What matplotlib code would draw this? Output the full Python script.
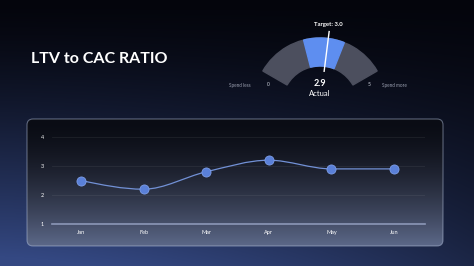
import numpy as np
import matplotlib
matplotlib.use("Agg")
import matplotlib.pyplot as plt
from matplotlib.patches import Wedge, FancyBboxPatch, PathPatch
from matplotlib.path import Path

# data
months = ["Jan", "Feb", "Mar", "Apr", "May", "Jun"]
ratio = [2.5, 2.2, 2.8, 3.2, 2.9, 2.9]
y_ticks = [1, 2, 3, 4]

gauge_min, gauge_max = 0, 5
band = (1.9, 3.4)
needle_at = 2.8
target_label = "Target: 3.0"
actual_value = "2.9"

W, H = 474, 266
fig = plt.figure(figsize=(W / 100, H / 100), dpi=100)

# full-figure axes in pixel units (y measured from bottom)
bg = fig.add_axes([0, 0, 1, 1])
bg.axis("off")

def Y(p):
    return H - p

# background gradient (row 0 = top of the figure)
xx, yy = np.meshgrid(np.linspace(0, 1, W), np.linspace(0, 1, H))
f = np.clip(yy ** 1.4 * (1.05 - 0.55 * xx ** 1.5), 0, 1)[..., None]
dark = np.array([4, 5, 12]) / 255
blue = np.array([52, 72, 130]) / 255
img = dark + (blue - dark) * f
bg.imshow(img, extent=[0, W, 0, H], origin="upper", aspect="auto", zorder=0)

# title
bg.text(31, Y(59), "LTV to CAC RATIO", color="white", fontsize=11.5,
        fontweight="bold", family="Lato", ha="left", va="center", zorder=5)

# gauge
cx, cy = 320, Y(104)
R, r = 66, 38

def ang(v):
    return 150 - 120 * (v - gauge_min) / (gauge_max - gauge_min)

bg.add_patch(Wedge((cx, cy), R, 30, 150, width=R - r, color="#4c4f5e", zorder=2))
bg.add_patch(Wedge((cx, cy), R, ang(band[1]), ang(band[0]), width=R - r,
                   color="#5e8ef0", zorder=3))
a = np.deg2rad(ang(needle_at))
bg.plot([cx + 33 * np.cos(a), cx + 73 * np.cos(a)],
        [cy + 33 * np.sin(a), cy + 73 * np.sin(a)], color="white", lw=1, zorder=4)
bg.text(328, Y(24.5), target_label, color="white", fontsize=4.3, fontweight="bold",
        family="Lato", ha="center", va="center", zorder=5)
bg.text(cx, Y(84), actual_value, color="white", fontsize=6.5, fontweight="bold",
        family="Lato", ha="center", va="center", zorder=5)
bg.text(cx, Y(93.5), "Actual", color="white", fontsize=5.5,
        family="Lato", ha="center", va="center", zorder=5)
bg.text(240, Y(85), "Spend less", color="#9aa0b0", fontsize=3.3, family="Lato",
        ha="center", va="center", zorder=5)
bg.text(268, Y(85), str(gauge_min), color="#d0d4de", fontsize=3.6, family="Lato",
        ha="center", va="center", zorder=5)
bg.text(369, Y(85), str(gauge_max), color="#d0d4de", fontsize=3.6, family="Lato",
        ha="center", va="center", zorder=5)
bg.text(394, Y(85), "Spend more", color="#9aa0b0", fontsize=3.3, family="Lato",
        ha="center", va="center", zorder=5)

# panel
px0, py0, pw, ph = 27, Y(246), 416, 127
t = np.linspace(0, 1, 128)[:, None, None] ** 1.6
ptop = np.array([10, 12, 20]) / 255
pbot = np.array([92, 104, 136]) / 255
pimg = np.repeat(ptop + (pbot - ptop) * t, 2, axis=1)
im = bg.imshow(pimg, extent=[px0, px0 + pw, py0, py0 + ph], origin="upper",
               aspect="auto", zorder=6)
clip = FancyBboxPatch((px0, py0), pw, ph, boxstyle="round,pad=0,rounding_size=6",
                      facecolor="none", edgecolor="none")
bg.add_patch(clip)
im.set_clip_path(clip)
bg.add_patch(FancyBboxPatch((px0, py0), pw, ph, boxstyle="round,pad=0,rounding_size=6",
                            facecolor="none", edgecolor=(0.75, 0.8, 0.9, 0.45),
                            lw=0.8, zorder=7))
bg.set_xlim(0, W)
bg.set_ylim(0, H)

# line chart
ax = fig.add_axes([52 / W, (H - 224) / H, 373 / W, 87 / H])
ax.patch.set_alpha(0)
x = np.arange(len(months), dtype=float)
y = np.array(ratio, dtype=float)

# monotone cubic curve through the points
h = np.diff(x)
s = np.diff(y) / h
tan = np.zeros_like(y)
for i in range(1, len(y) - 1):
    p = (s[i - 1] * h[i] + s[i] * h[i - 1]) / (h[i - 1] + h[i])
    tan[i] = (np.sign(s[i - 1]) + np.sign(s[i])) * min(abs(s[i - 1]), abs(s[i]), 0.5 * abs(p))
tan[0] = (3 * s[0] - tan[1]) / 2
tan[-1] = (3 * s[-1] - tan[-2]) / 2
verts = [(x[0], y[0])]
codes = [Path.MOVETO]
for i in range(len(x) - 1):
    dx = h[i] / 3
    verts += [(x[i] + dx, y[i] + dx * tan[i]), (x[i + 1] - dx, y[i + 1] - dx * tan[i + 1]),
              (x[i + 1], y[i + 1])]
    codes += [Path.CURVE4] * 3
ax.add_patch(PathPatch(Path(verts, codes), facecolor="none", edgecolor="#7291d6",
                       lw=0.9, zorder=3))
ax.plot(x, y, "o", ms=6.6, mfc="#5a80d8", mec="#86a6ee", mew=0.5, zorder=4, clip_on=False)

ax.set_xlim(-0.463, 5.495)
ax.set_ylim(1, 4)
ax.set_xticks(x)
ax.set_xticklabels(months)
ax.set_yticks(y_ticks)
for v in y_ticks[1:]:
    ax.axhline(v, color=(1, 1, 1, 0.07), lw=0.6, zorder=1)
ax.axhline(1, color="#8c98b8", lw=1.2, zorder=2, clip_on=False)
for sp in ax.spines.values():
    sp.set_visible(False)
ax.tick_params(length=0, colors="white", labelsize=4)
ax.tick_params(axis="y", pad=6)
ax.tick_params(axis="x", pad=4)
for lab in ax.get_xticklabels() + ax.get_yticklabels():
    lab.set_family("Lato")

fig.savefig("out.png", dpi=100)
